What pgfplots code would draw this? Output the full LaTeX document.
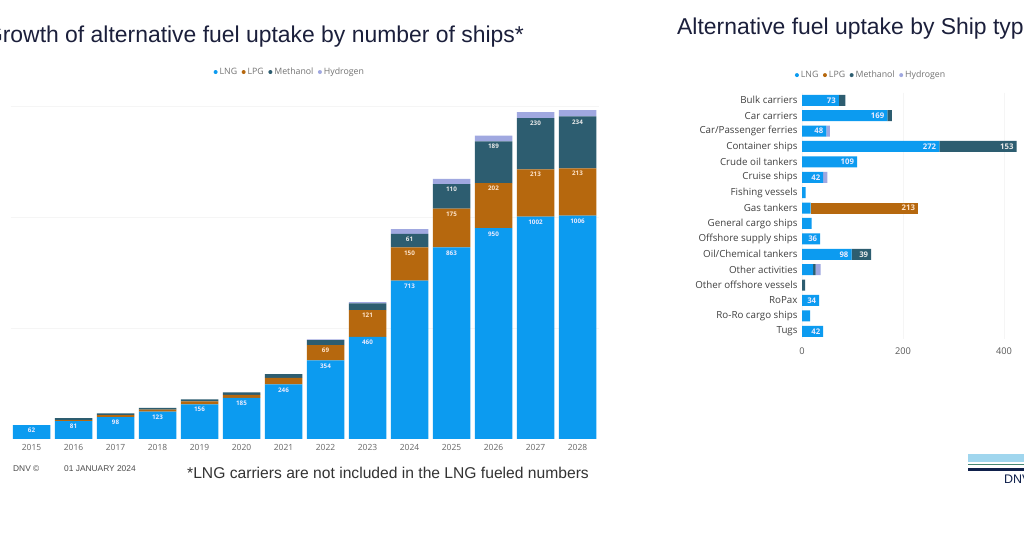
\documentclass[border=0pt]{standalone}
\usepackage{fontspec}
\setmainfont{Liberation Sans}
\newfontfamily\ui{Open Sans}
\usepackage{pgfplots}
\pgfplotsset{compat=1.18}

\definecolor{lng}{RGB}{12,155,240}
\definecolor{lpg}{RGB}{182,104,14}
\definecolor{meth}{RGB}{45,93,112}
\definecolor{hyd}{RGB}{160,168,224}
\definecolor{titlenavy}{RGB}{27,31,59}
\definecolor{dnvnavy}{RGB}{15,32,75}
\definecolor{dnvsky}{RGB}{160,214,238}
\definecolor{dnvgreen}{RGB}{70,135,115}

\pgfplotsset{
  fuel legend/.style={
    legend style={draw=none, fill=none, legend columns=-1,
      font=\ui\fontsize{8.8}{10}\selectfont, text=black!55,
      /tikz/every even column/.append style={column sep=2.5bp},
      inner sep=0pt},
    legend image code/.code={\fill[##1] (1.2bp,0bp) circle (2bp);},
  },
}

\begin{document}
\begin{tikzpicture}[x=1bp,y=1bp]
\useasboundingbox (0,0) rectangle (1024,536);
\fill[white] (0,0) rectangle (1024,536);
\clip (0,0) rectangle (1024,536);

% titles
\node[anchor=base east, inner sep=0pt, text=titlenavy, font=\fontsize{23}{27}\selectfont]
  at (524,493) {Growth of alternative fuel uptake by number of ships*};
\node[anchor=base west, inner sep=0pt, text=titlenavy, font=\fontsize{23}{27}\selectfont]
  at (677,501) {Alternative fuel uptake by Ship type};

% yearly uptake, stacked by fuel
\begin{axis}[
  at={(10.5bp,97bp)}, anchor=south west, scale only axis,
  width=588bp, height=333bp,
  ybar stacked, bar width=37.5bp,
  xmin=-0.5, xmax=13.5, ymin=0, ymax=1500,
  xtick={0,...,13},
  xticklabels={2015,2016,2017,2018,2019,2020,2021,2022,2023,2024,2025,2026,2027,2028},
  xticklabel style={font=\ui\fontsize{8.5}{10}\selectfont, text=black!60, yshift=-1.5bp},
  ytick={500,1000,1500}, yticklabels={},
  ymajorgrids, grid style={black!4},
  axis line style={draw=none}, tick style={draw=none},
  point meta=explicit symbolic,
  visualization depends on={rawy \as \rawy},
  nodes near coords={\pgfplotspointmeta},
  nodes near coords style={anchor=north, yshift={0.111*\rawy-1.8}, inner sep=1pt,
    font=\ui\bfseries\fontsize{6.3}{7}\selectfont},
  fuel legend,
  legend style={at={(0.475,1.102)}, anchor=center},
]
\addplot[fill=lng, draw=none, nodes near coords style={text=blue!8}] coordinates {
  (0,62)[62] (1,81)[81] (2,98)[98] (3,123)[123] (4,156)[156] (5,185)[185]
  (6,246)[246] (7,354)[354] (8,460)[460] (9,713)[713] (10,863)[863]
  (11,950)[950] (12,1002)[1002] (13,1006)[1006]};
\addplot[fill=lpg, draw=none, nodes near coords style={text=orange!20}] coordinates {
  (0,0)[] (1,4)[] (2,10)[] (3,9)[] (4,13)[] (5,14)[] (6,29)[]
  (7,69)[69] (8,121)[121] (9,150)[150] (10,175)[175] (11,202)[202]
  (12,213)[213] (13,213)[213]};
\addplot[fill=meth, draw=none, nodes near coords style={text=white!92!black}] coordinates {
  (0,0)[] (1,9)[] (2,7)[] (3,8)[] (4,10)[] (5,11)[] (6,17)[]
  (7,22)[] (8,30)[] (9,61)[61] (10,110)[110] (11,189)[189]
  (12,230)[230] (13,234)[234]};
\addplot[fill=hyd, draw=none] coordinates {
  (0,0)[] (1,0)[] (2,0)[] (3,0)[] (4,0)[] (5,0)[] (6,0)[]
  (7,4)[] (8,6)[] (9,21)[] (10,24)[] (11,25)[] (12,27)[] (13,28)[]};
\legend{LNG,LPG,Methanol,Hydrogen}
\end{axis}

% uptake by ship type, stacked by fuel
\begin{axis}[
  at={(802bp,197bp)}, anchor=south west, scale only axis,
  width=242.4bp, height=246.4bp,
  xbar stacked, bar width=11bp,
  xmin=0, xmax=480, ymin=-0.5, ymax=15.5, y dir=reverse,
  ytick={0,...,15},
  yticklabels={Bulk carriers,Car carriers,Car/Passenger ferries,Container ships,
    Crude oil tankers,Cruise ships,Fishing vessels,Gas tankers,General cargo ships,
    Offshore supply ships,Oil/Chemical tankers,Other activities,Other offshore vessels,
    RoPax,Ro-Ro cargo ships,Tugs},
  yticklabel style={font=\ui\fontsize{9.8}{11}\selectfont, text=black!75, xshift=-1bp},
  xtick={0,200,400},
  xticklabel style={font=\ui\fontsize{9.3}{11}\selectfont, text=black!65, yshift=-5bp},
  /pgf/number format/assume math mode=true,
  xmajorgrids, grid style={black!4},
  axis line style={draw=none}, tick style={draw=none},
  point meta=explicit symbolic,
  visualization depends on={rawx \as \rawx},
  nodes near coords={\pgfplotspointmeta},
  nodes near coords style={anchor=east, xshift={0.2525*\rawx-1.8}, inner sep=1pt,
    font=\ui\bfseries\fontsize{7.8}{9}\selectfont},
  fuel legend,
  legend style={at={(0.285,1.071)}, anchor=center},
]
\addplot[fill=lng, draw=none, nodes near coords style={text=blue!8}] coordinates {
  (73,0)[73] (169,1)[169] (48,2)[48] (272,3)[272] (109,4)[109] (42,5)[42]
  (7,6)[] (17,7)[] (19,8)[] (36,9)[36] (98,10)[98] (22,11)[] (0,12)[]
  (34,13)[34] (16,14)[] (42,15)[42]};
\addplot[fill=lpg, draw=none, nodes near coords style={text=orange!20}] coordinates {
  (0,0)[] (0,1)[] (0,2)[] (0,3)[] (0,4)[] (0,5)[] (0,6)[] (213,7)[213]
  (0,8)[] (0,9)[] (0,10)[] (0,11)[] (0,12)[] (0,13)[] (0,14)[] (0,15)[]};
\addplot[fill=meth, draw=none, nodes near coords style={text=white!92!black}] coordinates {
  (13,0)[] (9,1)[] (0,2)[] (153,3)[153] (0,4)[] (0,5)[] (0,6)[] (0,7)[]
  (0,8)[] (0,9)[] (39,10)[39] (5,11)[] (6,12)[] (0,13)[] (0,14)[] (0,15)[]};
\addplot[fill=hyd, draw=none] coordinates {
  (0,0)[] (0,1)[] (7,2)[] (0,3)[] (0,4)[] (8,5)[] (0,6)[] (0,7)[]
  (0,8)[] (0,9)[] (0,10)[] (10,11)[] (0,12)[] (0,13)[] (0,14)[] (0,15)[]};
\legend{LNG,LPG,Methanol,Hydrogen}
\end{axis}

% footer
\node[anchor=base west, inner sep=0pt, text=black!70, font=\fontsize{8.4}{9}\selectfont]
  at (13,64) {DNV \textcopyright};
\node[anchor=base west, inner sep=0pt, text=black!70, font=\fontsize{8.4}{9}\selectfont]
  at (64,64) {01 JANUARY 2024};
\node[anchor=base west, inner sep=0pt, text=black!80, font=\fontsize{15.7}{18}\selectfont]
  at (187,57) {*LNG carriers are not included in the LNG fueled numbers};

% DNV mark
\fill[dnvsky] (968,73.5) rectangle (1030,81.5);
\fill[dnvgreen] (968,70.8) rectangle (1030,71.8);
\fill[dnvnavy] (968,64.8) rectangle (1030,68.3);
\node[anchor=base west, inner sep=0pt, text=dnvnavy, font=\fontsize{12.5}{14}\selectfont]
  at (1004,52) {DNV};
\end{tikzpicture}
\end{document}
